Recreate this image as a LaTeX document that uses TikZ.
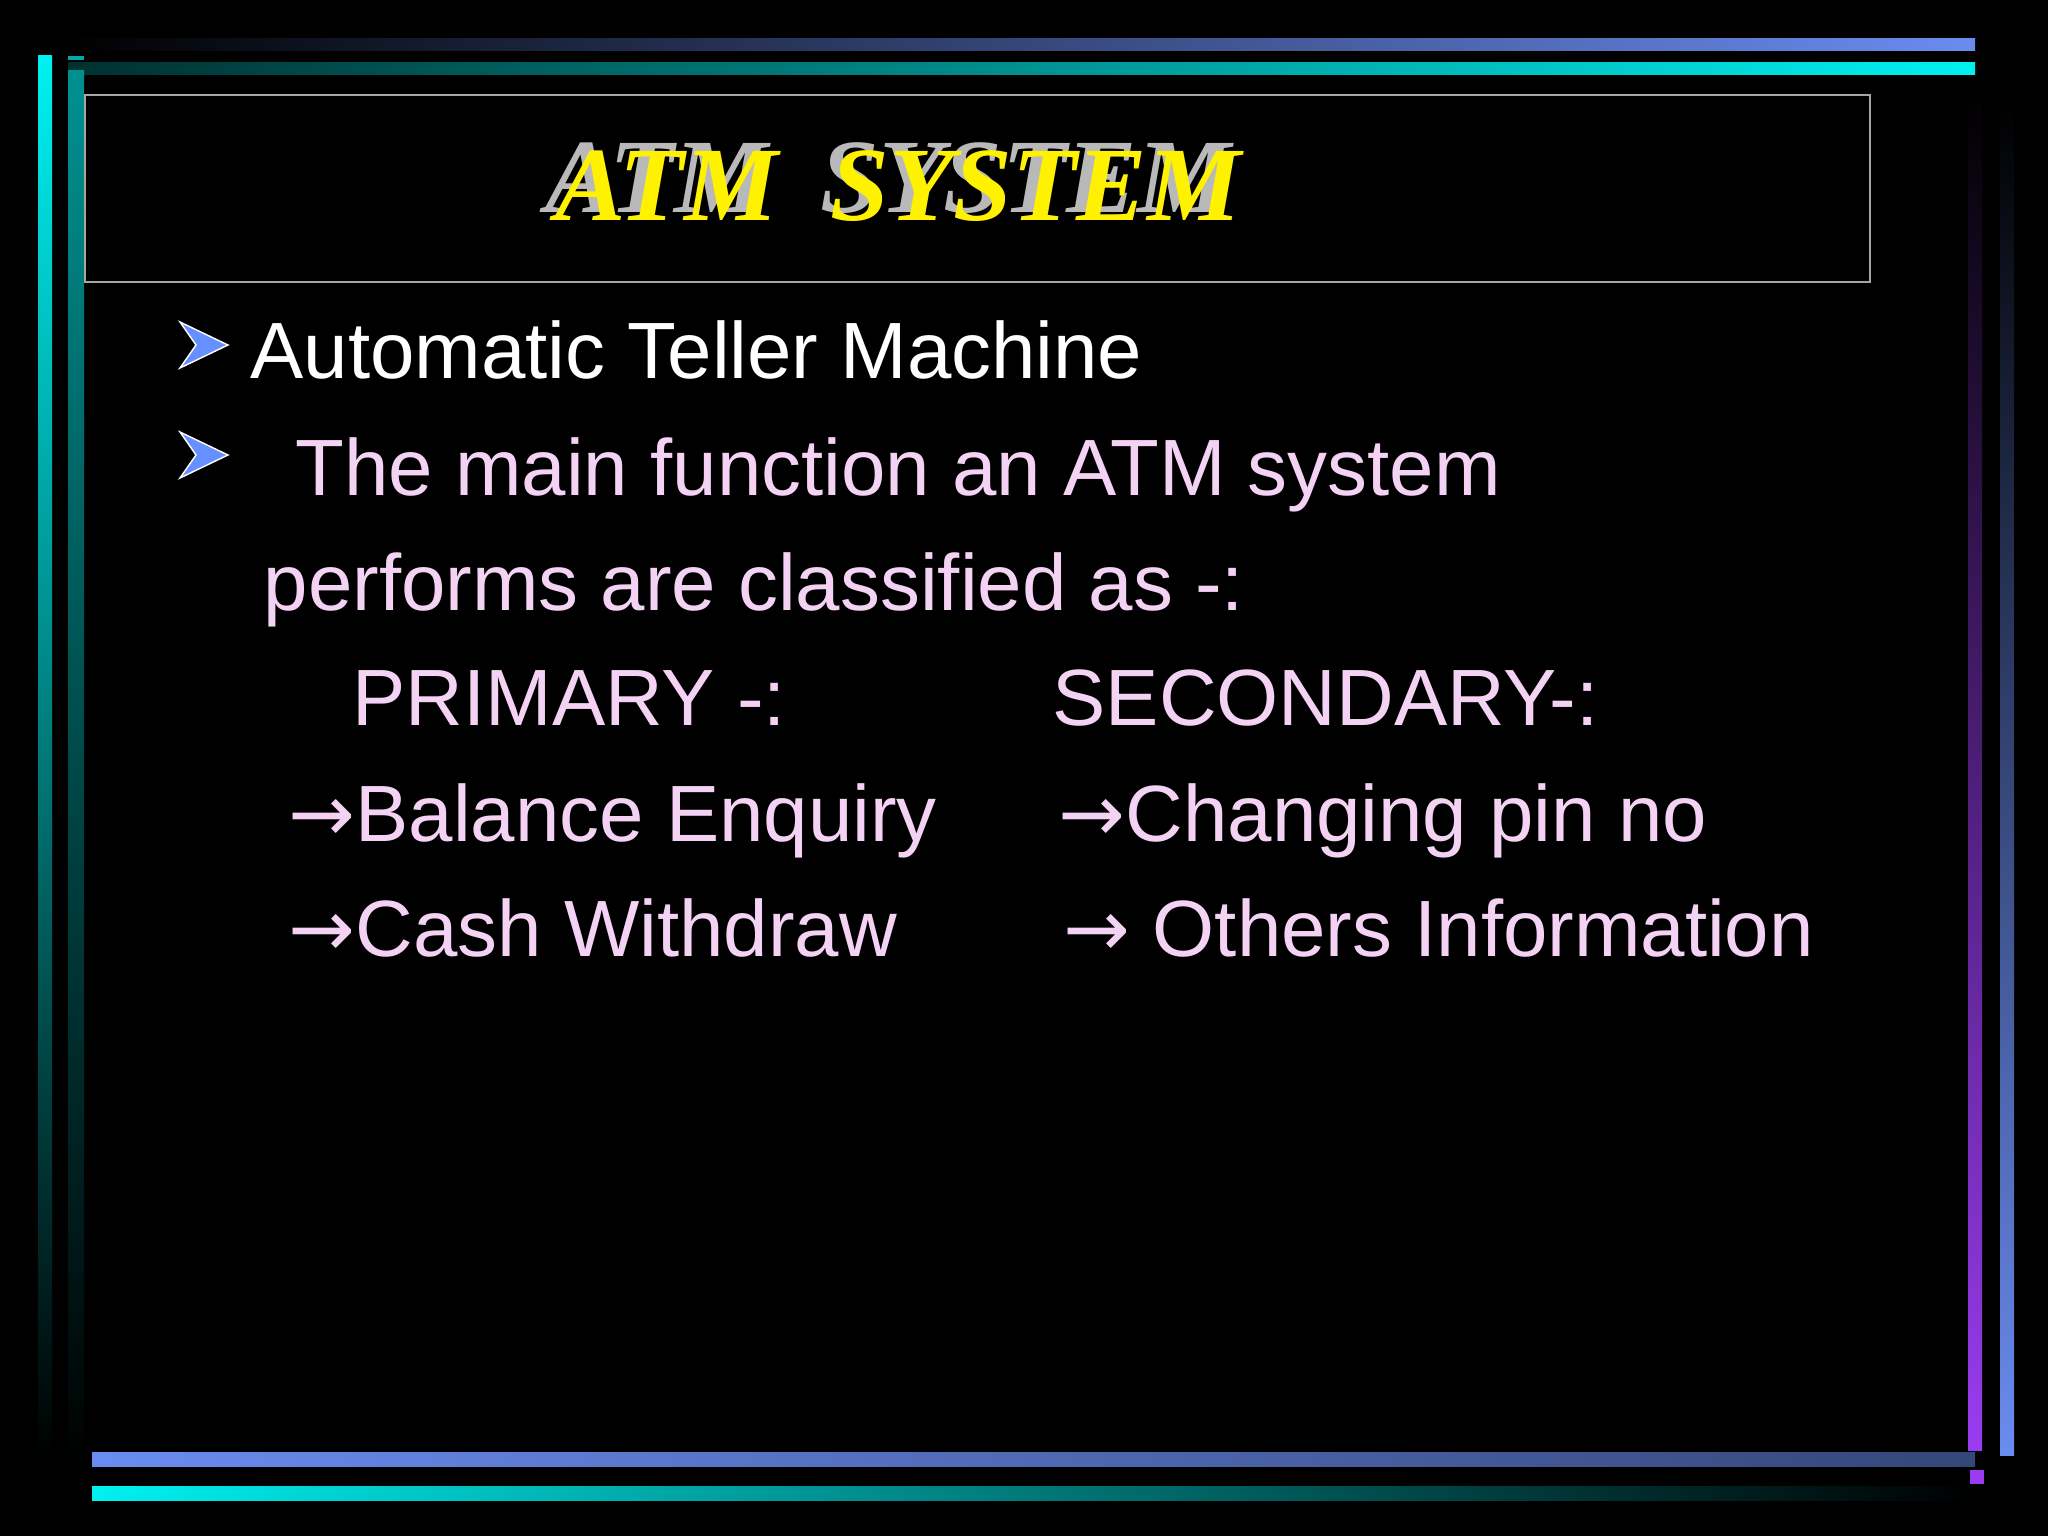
\documentclass[tikz,border=0pt]{standalone}
\usepackage{fontspec}
\setmainfont{Liberation Sans}
\newfontfamily\titlefont{Liberation Serif}
\newfontfamily\symfont{DejaVu Sans}
\definecolor{pinktxt}{HTML}{F4D2F4}
\definecolor{cyanb}{HTML}{00F0F0}
\definecolor{blueb}{HTML}{6A8CF0}
\definecolor{purpb}{HTML}{9A3CF0}
\definecolor{bulblue}{HTML}{6690FF}
\tikzset{txt/.style={anchor=base west,inner sep=0,font=\fontsize{22.7}{26}\selectfont,text=pinktxt},
 bul/.style={fill=bulblue,draw=white,line width=0.4pt},
 ttl/.style={font=\titlefont\bfseries\itshape\fontsize{30}{34}\selectfont}}
\begin{document}
\begin{tikzpicture}[x=0.01cm,y=-0.01cm]
\fill[black] (0,0) rectangle (2048,1536);
\useasboundingbox (0,0) rectangle (2048,1536);
% top bars
\shade[left color=black,right color=blueb] (60,38) rectangle (1975,50);
\shade[left color=black!80!cyanb,right color=cyanb] (68,62) rectangle (1975,74);
% left bars
\shade[top color=cyanb,bottom color=black] (38,55) rectangle (52,1460);
\shade[top color=cyanb!60!black,bottom color=black] (68,70) rectangle (84,1470);
\fill[cyanb!70!black] (68,56) rectangle (84,60);
% right bars
\shade[top color=black,bottom color=purpb] (1968,90) rectangle (1982,1450);
\shade[top color=black,bottom color=blueb] (2000,100) rectangle (2014,1455);
\fill[purpb] (1970,1470) rectangle (1984,1484);
% bottom bars
\shade[left color=blueb,right color=black!50!blueb] (92,1452) rectangle (1975,1466);
\shade[left color=cyanb,right color=black] (92,1486) rectangle (1975,1500);
% title box
\draw[gray!70,line width=0.6pt] (85,95) rectangle (1870,282);
\node[ttl,text=gray!55] (tsh) at (888,178) {ATM\ \ SYSTEM};
\node[ttl,text=yellow] (title) at (898,186) {ATM\ \ SYSTEM};
% bullets
\fill[bul] (180,322) -- (228,345) -- (180,368) -- (196,345) -- cycle;
\fill[bul] (180,432) -- (228,455) -- (180,478) -- (196,455) -- cycle;
\node[txt,text=white] (l1) at (250,378) {Automatic Teller Machine};
\node[txt] (l2) at (295,495) {The main function an ATM system};
\node[txt] (l3) at (263,610) {performs are classified as -:};
\node[txt] (p) at (352,725) {PRIMARY -:};
\node[txt] (s) at (1052,725) {SECONDARY-:};
\node[txt] (b) at (288,841) {{\symfont →}Balance Enquiry};
\node[txt] (c) at (1058,841) {{\symfont →}Changing pin no};
\node[txt] (w) at (288,956) {{\symfont →}Cash Withdraw};
\node[txt] (o) at (1063,956) {{\symfont →} Others Information};
\end{tikzpicture}
\end{document}
